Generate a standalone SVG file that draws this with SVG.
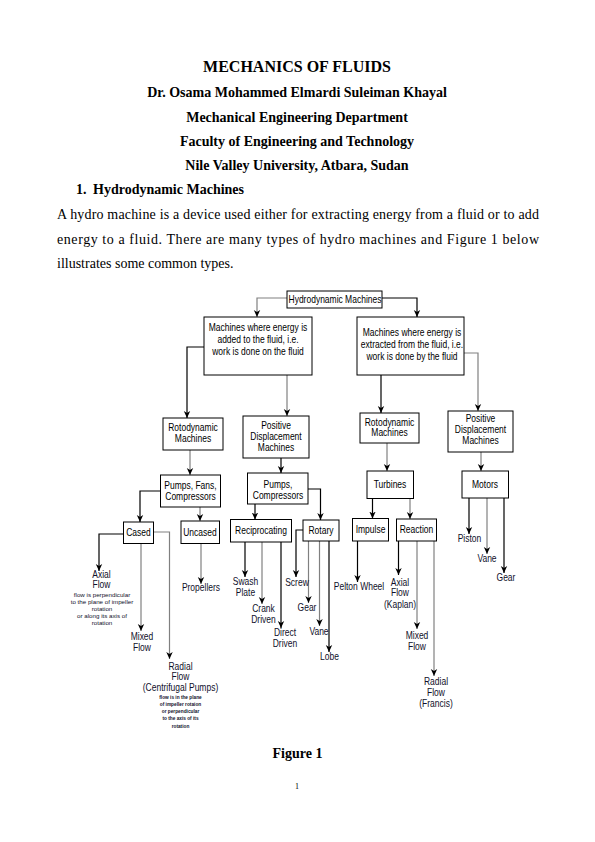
<svg xmlns="http://www.w3.org/2000/svg" width="595" height="842" viewBox="0 0 595 842">
<defs>
<style>
.h{font-family:"Liberation Serif","Times New Roman",serif;font-weight:bold;font-size:14px;fill:#000;text-anchor:middle}
.b{font-family:"Liberation Serif","Times New Roman",serif;font-size:14px;fill:#000}
.n{font-family:"Liberation Sans",Arial,sans-serif;font-size:10px;fill:#000;text-anchor:middle}
.l{font-family:"Liberation Sans",Arial,sans-serif;font-size:10px;fill:#10102a;text-anchor:middle}
.s{font-family:"Liberation Sans",Arial,sans-serif;font-size:6.2px;fill:#10102a;text-anchor:middle}
.t{font-family:"Liberation Sans",Arial,sans-serif;font-size:5.6px;font-weight:bold;fill:#10102a;text-anchor:middle}
rect{fill:#fff;stroke:#000;stroke-width:1}
.k{fill:none;stroke:#000;stroke-width:1.2;marker-end:url(#a)}
.g{fill:none;stroke:#808080;stroke-width:1.2;marker-end:url(#a)}
</style>
<marker id="a" viewBox="0 -4 8 8" refX="7" refY="0" markerWidth="8" markerHeight="8" markerUnits="userSpaceOnUse" orient="auto">
<path d="M0,-3.2 L7,0 L0,3.2 L2,0 Z" fill="#000"/>
</marker>
</defs>

<g id="header">
<text class="h" x="297" y="71.5" style="font-size:16px">MECHANICS OF FLUIDS</text>
<text class="h" x="297" y="97">Dr. Osama Mohammed Elmardi Suleiman Khayal</text>
<text class="h" x="297" y="122">Mechanical Engineering Department</text>
<text class="h" x="297" y="146">Faculty of Engineering and Technology</text>
<text class="h" x="297" y="170">Nile Valley University, Atbara, Sudan</text>
<text class="h" x="76" y="193.5" style="text-anchor:start">1.</text>
<text class="h" x="93" y="193.5" style="text-anchor:start">Hydrodynamic Machines</text>
<text class="b" x="57" y="218.5" textLength="482" lengthAdjust="spacing">A hydro machine is a device used either for extracting energy from a fluid or to add</text>
<text class="b" x="57" y="243.5" textLength="482" lengthAdjust="spacing">energy to a fluid. There are many types of hydro machines and Figure 1 below</text>
<text class="b" x="57" y="268">illustrates some common types.</text>
</g>

<g id="connectors">
<path class="g" d="M287,298 H257 V317"/>
<path class="k" d="M382,298 H417 V317"/>
<path class="k" d="M204,347 H187 V418"/>
<path class="g" d="M287,375 V416"/>
<path class="k" d="M381,375 V413"/>
<path class="g" d="M464,353 H478 V411"/>
<path class="g" d="M190,450 V475"/>
<path class="k" d="M281,458 V473"/>
<path class="g" d="M387,443 V471"/>
<path class="g" d="M481,452 V471"/>
<path class="k" d="M160.5,491 H140 V522"/>
<path class="g" d="M200,507 V521"/>
<path class="k" d="M255,504 V519.5"/>
<path class="k" d="M308,489 H320.5 V520"/>
<path class="k" d="M372.5,498.5 V518.5"/>
<path class="g" d="M410,498.5 V519"/>
<path class="k" d="M123.5,534 H99 V571"/>
<path class="g" d="M141,543.5 V631"/>
<path class="g" d="M153.5,532 H169.5 V659"/>
<path class="g" d="M201,543.5 V584"/>
<path class="k" d="M245,542 V577"/>
<path class="g" d="M262,542 V604"/>
<path class="k" d="M281,542 V628"/>
<path class="k" d="M303,530 H296 V577"/>
<path class="g" d="M308.5,541 V603"/>
<path class="g" d="M319.5,541 V626"/>
<path class="k" d="M329,541 V652"/>
<path class="k" d="M357.5,541 V582"/>
<path class="k" d="M398.5,541 V575"/>
<path class="g" d="M417,541 V629"/>
<path class="g" d="M434,541 V676"/>
<path class="k" d="M469,498 V534"/>
<path class="g" d="M487,498 V554"/>
<path class="k" d="M504,498 V573"/>
</g>

<g id="n-hydro"><rect x="287" y="291" width="95" height="17"/><g transform="scale(0.85 1)"><text class="n" x="394.12" y="303.5">Hydrodynamic Machines</text></g></g>
<g id="n-added"><rect x="204" y="317" width="108" height="58"/><g transform="scale(0.85 1)">
<text class="n" x="303.53" y="331.5">Machines where energy is</text>
<text class="n" x="303.53" y="343.5">added to the fluid, i.e.</text>
<text class="n" x="303.53" y="355.5">work is done on the fluid</text></g></g>
<g id="n-extracted"><rect x="357" y="317" width="107" height="58"/><g transform="scale(0.85 1)">
<text class="n" x="484.71" y="336.5">Machines where energy is</text>
<text class="n" x="484.71" y="348.5">extracted from the fluid, i.e.</text>
<text class="n" x="484.71" y="360.5">work is done by the fluid</text></g></g>

<g id="n-roto1"><rect x="163" y="418" width="60" height="32"/><g transform="scale(0.85 1)">
<text class="n" x="227.06" y="431.5">Rotodynamic</text><text class="n" x="227.06" y="442">Machines</text></g></g>
<g id="n-pd1"><rect x="243" y="416" width="66" height="42"/><g transform="scale(0.85 1)">
<text class="n" x="324.71" y="429.5">Positive</text><text class="n" x="324.71" y="440.5">Displacement</text><text class="n" x="324.71" y="451.5">Machines</text></g></g>
<g id="n-roto2"><rect x="360" y="413" width="59" height="30"/><g transform="scale(0.85 1)">
<text class="n" x="458.24" y="426">Rotodynamic</text><text class="n" x="458.24" y="436">Machines</text></g></g>
<g id="n-pd2"><rect x="448" y="411" width="65" height="41"/><g transform="scale(0.85 1)">
<text class="n" x="565.29" y="422.5">Positive</text><text class="n" x="565.29" y="433.5">Displacement</text><text class="n" x="565.29" y="444.5">Machines</text></g></g>

<g id="n-pfc"><rect x="160.5" y="475" width="60" height="32"/><g transform="scale(0.85 1)">
<text class="n" x="224.12" y="489.5">Pumps, Fans,</text><text class="n" x="224.12" y="500.5">Compressors</text></g></g>
<g id="n-pc"><rect x="247.5" y="473" width="60.5" height="31"/><g transform="scale(0.85 1)">
<text class="n" x="327.06" y="488">Pumps,</text><text class="n" x="327.06" y="499">Compressors</text></g></g>
<g id="n-turbines"><rect x="367" y="471" width="46.5" height="27.5"/><g transform="scale(0.85 1)"><text class="n" x="458.82" y="488">Turbines</text></g></g>
<g id="n-motors"><rect x="462" y="471" width="46.5" height="27"/><g transform="scale(0.85 1)"><text class="n" x="570.59" y="488">Motors</text></g></g>

<g id="n-cased"><rect x="123.5" y="522" width="30" height="21.5"/><g transform="scale(0.85 1)"><text class="n" x="162.94" y="536.5">Cased</text></g></g>
<g id="n-uncased"><rect x="181" y="521" width="38.5" height="22.5"/><g transform="scale(0.85 1)"><text class="n" x="235.29" y="536">Uncased</text></g></g>
<g id="n-recip"><rect x="230.5" y="519.5" width="61" height="22.5"/><g transform="scale(0.85 1)"><text class="n" x="307.06" y="534.5">Reciprocating</text></g></g>
<g id="n-rotary"><rect x="303" y="520" width="36" height="21"/><g transform="scale(0.85 1)"><text class="n" x="377.65" y="534.5">Rotary</text></g></g>
<g id="n-impulse"><rect x="352.5" y="518.5" width="36" height="22.5"/><g transform="scale(0.85 1)"><text class="n" x="435.88" y="533.5">Impulse</text></g></g>
<g id="n-reaction"><rect x="396.5" y="519" width="40" height="22"/><g transform="scale(0.85 1)"><text class="n" x="490" y="533.5">Reaction</text></g></g>

<g id="n-axial1">
<g transform="scale(0.85 1)"><text class="l" x="119.41" y="578.5">Axial</text><text class="l" x="119.41" y="588.5">Flow</text></g>
<text class="s" x="102" y="596.5">flow is perpendicular</text>
<text class="s" x="102" y="603.5">to the plane of impeller</text>
<text class="s" x="102" y="610.5">rotation</text>
<text class="s" x="102" y="617.5">or along its axis of</text>
<text class="s" x="102" y="624.5">rotation</text></g>
<g id="n-mixed1"><g transform="scale(0.85 1)"><text class="l" x="167.06" y="640.5">Mixed</text><text class="l" x="167.06" y="651.5">Flow</text></g></g>
<g id="n-radial1">
<g transform="scale(0.85 1)"><text class="l" x="212.35" y="670">Radial</text><text class="l" x="212.35" y="680">Flow</text>
<text class="l" x="212.35" y="691.5">(Centrifugal Pumps)</text>
<text class="t" x="212.35" y="699.5">flow is in the plane</text>
<text class="t" x="212.35" y="706.5">of impeller rotaion</text>
<text class="t" x="212.35" y="713.5">or perpendicular</text>
<text class="t" x="212.35" y="720.5">to the axis of its</text>
<text class="t" x="212.35" y="728">rotation</text></g></g>
<g id="n-propellers"><g transform="scale(0.85 1)"><text class="l" x="236.47" y="591.5">Propellers</text></g></g>
<g id="n-swash"><g transform="scale(0.85 1)"><text class="l" x="288.82" y="585">Swash</text><text class="l" x="288.82" y="596">Plate</text></g></g>
<g id="n-crank"><g transform="scale(0.85 1)"><text class="l" x="310" y="612.5">Crank</text><text class="l" x="310" y="623.5">Driven</text></g></g>
<g id="n-direct"><g transform="scale(0.85 1)"><text class="l" x="335.29" y="636">Direct</text><text class="l" x="335.29" y="647.5">Driven</text></g></g>
<g id="n-screw"><g transform="scale(0.85 1)"><text class="l" x="349.41" y="586.5">Screw</text></g></g>
<g id="n-gear1"><g transform="scale(0.85 1)"><text class="l" x="361.18" y="611.5">Gear</text></g></g>
<g id="n-vane1"><g transform="scale(0.85 1)"><text class="l" x="375.29" y="635">Vane</text></g></g>
<g id="n-lobe"><g transform="scale(0.85 1)"><text class="l" x="387.65" y="660.5">Lobe</text></g></g>
<g id="n-pelton"><g transform="scale(0.85 1)"><text class="l" x="422.35" y="590.5">Pelton Wheel</text></g></g>
<g id="n-axial2"><g transform="scale(0.85 1)"><text class="l" x="470.59" y="586">Axial</text><text class="l" x="470.59" y="596.5">Flow</text><text class="l" x="470.59" y="608.5">(Kaplan)</text></g></g>
<g id="n-mixed2"><g transform="scale(0.85 1)"><text class="l" x="490.59" y="639.5">Mixed</text><text class="l" x="490.59" y="650">Flow</text></g></g>
<g id="n-radial2"><g transform="scale(0.85 1)"><text class="l" x="512.94" y="685">Radial</text><text class="l" x="512.94" y="696">Flow</text><text class="l" x="512.94" y="707.5">(Francis)</text></g></g>
<g id="n-piston"><g transform="scale(0.85 1)"><text class="l" x="552.35" y="542.5">Piston</text></g></g>
<g id="n-vane2"><g transform="scale(0.85 1)"><text class="l" x="572.94" y="562.5">Vane</text></g></g>
<g id="n-gear2"><g transform="scale(0.85 1)"><text class="l" x="595.29" y="581">Gear</text></g></g>

<g id="footer">
<text class="h" x="297.5" y="758">Figure 1</text>
<text class="b" x="297" y="789" style="font-size:8px;text-anchor:middle">1</text>
</g>
</svg>
